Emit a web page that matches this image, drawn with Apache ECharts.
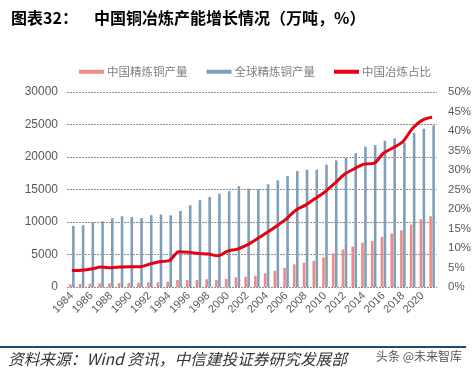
<!DOCTYPE html>
<html>
<head>
<meta charset="utf-8">
<script src="https://cdn.jsdelivr.net/npm/echarts@6/dist/echarts.min.js"></script>
<style>
  html, body { margin: 0; padding: 0; background: #fff; }
  #chart { width: 474px; height: 375px; }
</style>
</head>
<body>
<div id="chart"></div>
<script>
// 年份
const years = [];
for (let y = 1984; y <= 2021; y++) years.push(String(y));

// 中国精炼铜产量（万吨）
const chinaOutput = [410, 460, 500, 560, 570, 600, 610, 650, 720, 730, 800, 1070,
  1070, 1070, 1180, 1070, 1230, 1490, 1580, 1730, 2100, 2500, 2960, 3480, 3730, 4030,
  4560, 5170, 5780, 6190, 6800, 7060, 7720, 8230, 8740, 9610, 10430, 10890];

// 全球精炼铜产量（万吨）
const globalOutput = [9400, 9510, 9920, 10120, 10580, 10890, 10790, 10590, 11040, 11150, 11040, 11700,
  12580, 13350, 13860, 14370, 14730, 15490, 15140, 15030, 15800, 16410, 17080, 17840, 18050, 18050,
  18820, 19480, 19840, 20600, 21580, 21830, 22500, 22860, 22250, 23730, 24350, 24850];

// 中国冶炼占比（%）
const chinaShare = [4.2, 4.3, 4.6, 5.1, 4.95, 5.1, 5.2, 5.2, 5.9, 6.5, 6.75, 9.05,
  8.9, 8.6, 8.45, 8.0, 9.2, 9.7, 10.8, 12.3, 13.9, 15.6, 17.4, 19.7, 21.0, 22.7,
  24.4, 26.6, 28.9, 30.3, 31.5, 31.7, 34.3, 35.7, 37.3, 40.7, 42.8, 43.5];

const cjk = '"Noto Sans CJK SC", sans-serif';
const num = '"Liberation Sans", Arial, sans-serif';

const chart = echarts.init(document.getElementById('chart'));

const option = {
  animation: false,
  backgroundColor: '#fff',
  title: [
    {
      text: '图表32：',
      left: 6, top: 5,
      textStyle: { fontSize: 16, fontWeight: 'bold', color: '#000', fontFamily: cjk }
    },
    {
      text: '中国铜冶炼产能增长情况（万吨，%）',
      left: 89, top: 5,
      textStyle: { fontSize: 16, fontWeight: 'bold', color: '#000', fontFamily: cjk }
    }
  ],
  legend: {
    top: 61,
    left: 74,
    itemWidth: 25,
    itemHeight: 4,
    itemGap: 19,
    textStyle: { color: '#7f7f7f', fontSize: 11.5, fontFamily: cjk, padding: [0, 0, 0, -2] },
    data: [
      { name: '中国精炼铜产量', icon: 'rect' },
      { name: '全球精炼铜产量', icon: 'rect' },
      { name: '中国冶炼占比', icon: 'rect' }
    ]
  },
  grid: { left: 67, right: 36, top: 92, bottom: 88 },
  xAxis: {
    type: 'category',
    data: years,
    axisLine: { show: false },
    axisTick: { show: false },
    axisLabel: {
      interval: 1, rotate: 45, margin: 7,
      color: '#595959', fontSize: 11, fontFamily: num
    }
  },
  yAxis: [
    {
      type: 'value', min: 0, max: 30000, interval: 5000,
      axisLine: { show: false }, axisTick: { show: false },
      axisLabel: { color: '#595959', fontSize: 12, margin: 9, fontFamily: num, formatter: v => String(v) },
      splitLine: { lineStyle: { color: '#8c8c8c', type: [2, 1], width: 1 } }
    },
    {
      type: 'value', min: 0, max: 50, interval: 5,
      axisLine: { show: false }, axisTick: { show: false },
      axisLabel: { color: '#595959', fontSize: 11.5, margin: 11, fontFamily: num, formatter: '{value}%' },
      splitLine: { show: false }
    }
  ],
  series: [
    {
      name: '中国精炼铜产量', type: 'bar', data: chinaOutput,
      barWidth: 2.6, barGap: '15%',
      itemStyle: { color: '#f08a87' }
    },
    {
      name: '全球精炼铜产量', type: 'bar', data: globalOutput,
      barWidth: 2.6,
      itemStyle: { color: '#7f9fb9' }
    },
    {
      name: '中国冶炼占比', type: 'line', yAxisIndex: 1, data: chinaShare,
      smooth: 0.3, showSymbol: false, symbol: 'none',
      lineStyle: { color: '#e50012', width: 3 },
      itemStyle: { color: '#e50012' }
    }
  ],
  graphic: [
    {
      type: 'line', silent: true,
      shape: { x1: 0, y1: 347, x2: 466, y2: 347 },
      style: { stroke: '#1c4a70', lineWidth: 2 }
    },
    {
      type: 'text', left: 8, top: 351,
      style: {
        text: '资料来源：Wind 资讯，中信建投证券研究发展部',
        fill: '#333', fontSize: 15.7, fontStyle: 'italic', fontFamily: cjk
      }
    },
    {
      type: 'text', left: 376, top: 350,
      style: { text: '头条 @未来智库', fill: '#555', fontSize: 12, fontFamily: cjk }
    }
  ]
};

chart.setOption(option);
</script>
</body>
</html>
